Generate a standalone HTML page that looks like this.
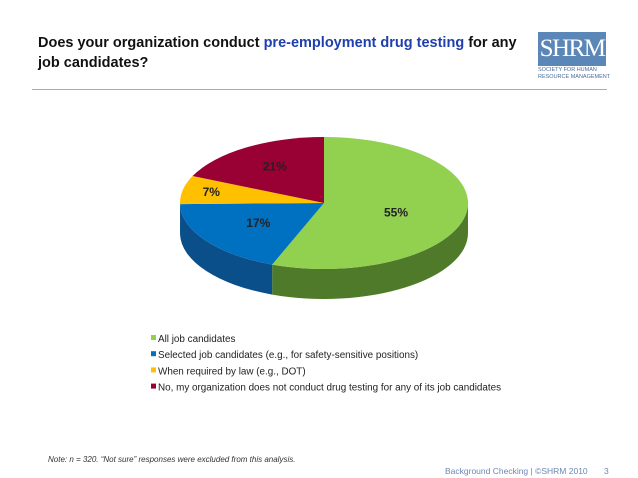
<!DOCTYPE html>
<html><head><meta charset="utf-8"><style>
body{margin:0;background:#fff;}
#page{position:relative;width:638px;height:478px;overflow:hidden;font-family:"Liberation Sans",sans-serif;background:#fff;}
.t{position:absolute;}
</style></head><body>
<div id="page">
<div class="t" style="left:38px;top:33px;width:480px;font-family:'Liberation Sans',sans-serif;font-weight:bold;font-size:14.5px;line-height:20px;color:#111;">Does your organization conduct <span style="color:#1f3fae">pre-employment drug testing</span> for any job candidates?</div>
<div class="t" style="left:538px;top:32px;width:68px;height:34px;background:#5b86b8;color:#fff;font-family:'Liberation Serif',serif;font-size:25px;line-height:34px;text-align:center;letter-spacing:-1.5px;">SHRM</div>
<div class="t" style="left:538px;top:67px;font-size:5.5px;line-height:6.5px;color:#4a6d9a;">SOCIETY FOR HUMAN<br>RESOURCE MANAGEMENT</div>
<div class="t" style="left:32px;top:89px;width:575px;height:1px;background:#aaa;"></div>
<svg id="chart" width="638" height="478" style="position:absolute;left:0;top:0"></svg>
<div class="t" style="left:48px;top:455px;font-size:8px;font-style:italic;color:#333;">Note: <i>n</i> = 320. “Not sure” responses were excluded from this analysis.</div>
<div class="t" style="left:445px;top:466px;font-size:8.5px;color:#6d87b5;">Background Checking | ©SHRM 2010</div>
<div class="t" style="left:604px;top:466px;font-size:8.5px;color:#6d87b5;">3</div>
</div>
<script>
const categories=["All job candidates","Selected job candidates (e.g., for safety-sensitive positions)","When required by law (e.g., DOT)","No, my organization does not conduct drug testing for any of its job candidates"];
const values=[55,17,7,21];
const labels=["55%","17%","7%","21%"];
const colors=["#92d050","#0070c0","#ffc000","#990033"];
const sideColors=["#4f7a2a","#0a4f8a","#b08800","#66001f"];
const slugs=["all-candidates","selected-candidates","required-by-law","no-testing"];
const NS="http://www.w3.org/2000/svg";
const svg=document.getElementById('chart');
const cx=324,cy=203,rx=144,ry=66,depth=30;
const total=values.reduce((a,b)=>a+b,0);
function warp(th){return th-0.175*Math.sin(th);}
function pt(th,dy){const w=warp(th);return [cx+rx*Math.sin(w),cy-ry*Math.cos(w)+(dy||0)];}
function mk(tag,attrs){const e=document.createElementNS(NS,tag);for(const k in attrs)e.setAttribute(k,attrs[k]);svg.appendChild(e);return e;}
let start=0;const angles=[];
values.forEach(v=>{const a=start,b=start+v/total*2*Math.PI;angles.push([a,b]);start=b;});
angles.forEach(([a,b],i)=>{
  const lo=Math.max(warp(a),Math.PI/2),hi=Math.min(warp(b),3*Math.PI/2);
  if(hi<=lo)return;
  const P=(w,dy)=>[cx+rx*Math.sin(w),cy-ry*Math.cos(w)+(dy||0)];
  const p1=P(lo),p2=P(hi),p3=P(hi,depth),p4=P(lo,depth);
  const d=`M${p1[0]},${p1[1]} A${rx},${ry} 0 0 1 ${p2[0]},${p2[1]} L${p3[0]},${p3[1]} A${rx},${ry} 0 0 0 ${p4[0]},${p4[1]} Z`;
  const e=mk('path',{d:d,fill:sideColors[i]});
  
  
});
angles.forEach(([a,b],i)=>{
  const p1=pt(a),p2=pt(b);const large=(warp(b)-warp(a))>Math.PI?1:0;
  const d=`M${cx},${cy} L${p1[0]},${p1[1]} A${rx},${ry} 0 ${large} 1 ${p2[0]},${p2[1]} Z`;
  const e=mk('path',{d:d,fill:colors[i]});
  
  
});
const lr=[0.5,0.55,0.8,0.65];
const dyl=[10,0,0,0];
angles.forEach(([a,b],i)=>{
  const m=warp((a+b)/2);const x=cx+rx*lr[i]*Math.sin(m),y=cy-ry*lr[i]*Math.cos(m)+4+dyl[i];
  const t=mk('text',{x:x,y:y,'text-anchor':'middle','font-family':'Liberation Sans, sans-serif','font-size':'12','font-weight':'bold',fill:'#222'});
  t.textContent=labels[i];
  
  
});
categories.forEach((c,i)=>{
  const y=339+i*16.2;
  const r=mk('rect',{x:151,y:y-4,width:5,height:5,fill:colors[i]});
  
  
  const t=mk('text',{x:158,y:y+3,'font-family':'Liberation Sans, sans-serif','font-size':'9.9',fill:'#222'});
  t.textContent=c;
  
  
});
</script>
</body></html>
